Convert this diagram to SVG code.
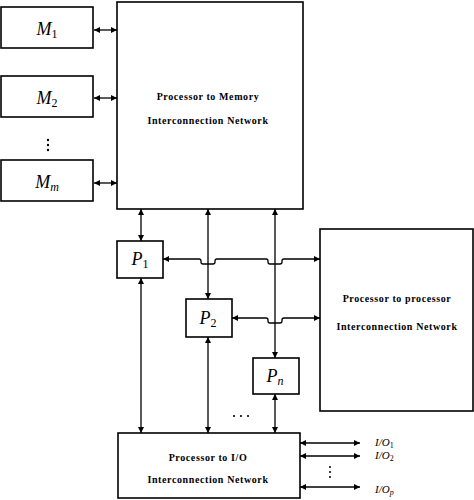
<svg xmlns="http://www.w3.org/2000/svg" width="474" height="500" viewBox="0 0 474 500">
<defs>
<marker id="ah" viewBox="0 0 10 10" refX="10" refY="5" markerWidth="7" markerHeight="6" markerUnits="userSpaceOnUse" orient="auto-start-reverse">
<path d="M0,0 L10,5 L0,10 z" fill="#000"/>
</marker>
<style>
.box{fill:#fff;stroke:#000;stroke-width:1.6}
.ln{fill:none;stroke:#000;stroke-width:1.3}
.net{font-family:"Liberation Serif",serif;font-weight:bold;font-size:10px;letter-spacing:0.6px;text-anchor:middle}
.lab{font-family:"Liberation Serif",serif;font-style:italic;font-size:18px;text-anchor:middle}
.sub{font-style:normal}
.io{font-family:"Liberation Serif",serif;font-style:italic;font-size:11px}
.dot{fill:#000}
</style>
</defs>
<g id="connectors">
<line class="ln" x1="94" y1="30" x2="117" y2="30" marker-start="url(#ah)" marker-end="url(#ah)"/>
<line class="ln" x1="94" y1="98" x2="117" y2="98" marker-start="url(#ah)" marker-end="url(#ah)"/>
<line class="ln" x1="94" y1="183" x2="117" y2="183" marker-start="url(#ah)" marker-end="url(#ah)"/>
<line class="ln" x1="141" y1="209" x2="141" y2="241" marker-start="url(#ah)" marker-end="url(#ah)"/>
<line class="ln" x1="208" y1="209" x2="208" y2="299" marker-start="url(#ah)" marker-end="url(#ah)"/>
<line class="ln" x1="275" y1="209" x2="275" y2="358" marker-start="url(#ah)" marker-end="url(#ah)"/>
<line class="ln" x1="141" y1="278" x2="141" y2="433" marker-start="url(#ah)" marker-end="url(#ah)"/>
<line class="ln" x1="208" y1="337" x2="208" y2="433" marker-start="url(#ah)" marker-end="url(#ah)"/>
<line class="ln" x1="275" y1="394" x2="275" y2="433" marker-start="url(#ah)" marker-end="url(#ah)"/>
<path class="ln" d="M163,259 H199 q2,0 2,2 v1 q0,2 2,2 h10 q2,0 2,-2 v-1 q0,-2 2,-2 H266 q2,0 2,2 v1 q0,2 2,2 h10 q2,0 2,-2 v-1 q0,-2 2,-2 H320" marker-start="url(#ah)" marker-end="url(#ah)"/>
<path class="ln" d="M232,318 H266 q2,0 2,2 v1 q0,2 2,2 h10 q2,0 2,-2 v-1 q0,-2 2,-2 H320" marker-start="url(#ah)" marker-end="url(#ah)"/>
<line class="ln" x1="300" y1="443" x2="360" y2="443" marker-start="url(#ah)" marker-end="url(#ah)"/>
<line class="ln" x1="300" y1="456" x2="360" y2="456" marker-start="url(#ah)" marker-end="url(#ah)"/>
<line class="ln" x1="300" y1="487" x2="360" y2="487" marker-start="url(#ah)" marker-end="url(#ah)"/>
</g>
<g id="M1"><rect class="box" x="1" y="7" width="92" height="41"/><text class="lab" x="47" y="35">M<tspan class="sub" font-size="12" dy="3">1</tspan></text></g>
<g id="M2"><rect class="box" x="1" y="76" width="92" height="41"/><text class="lab" x="47" y="104">M<tspan class="sub" font-size="12" dy="3">2</tspan></text></g>
<g id="Mdots"><circle class="dot" cx="48" cy="140" r="1.2"/><circle class="dot" cx="48" cy="145" r="1.2"/><circle class="dot" cx="48" cy="150" r="1.2"/></g>
<g id="Mm"><rect class="box" x="1" y="160" width="92" height="41"/><text class="lab" x="47" y="188">M<tspan font-size="12" dy="3">m</tspan></text></g>
<g id="PMnet"><rect class="box" x="117" y="2" width="186" height="207"/><text class="net" x="208" y="100">Processor to Memory</text><text class="net" x="208" y="124">Interconnection Network</text></g>
<g id="P1"><rect class="box" x="117" y="241" width="46" height="37"/><text class="lab" x="140" y="265">P<tspan class="sub" font-size="12" dy="3">1</tspan></text></g>
<g id="P2"><rect class="box" x="186" y="299" width="46" height="38"/><text class="lab" x="208" y="324">P<tspan class="sub" font-size="12" dy="3">2</tspan></text></g>
<g id="Pn"><rect class="box" x="253" y="358" width="46" height="36"/><text class="lab" x="275" y="382">P<tspan font-size="12" dy="3">n</tspan></text></g>
<g id="PPnet"><rect class="box" x="320" y="229" width="153" height="182"/><text class="net" x="397" y="302">Processor to processor</text><text class="net" x="397" y="330">Interconnection Network</text></g>
<g id="Pdots"><circle class="dot" cx="234" cy="416" r="1.1"/><circle class="dot" cx="241" cy="416" r="1.1"/><circle class="dot" cx="248" cy="416" r="1.1"/></g>
<g id="PIOnet"><rect class="box" x="118" y="433" width="182" height="65"/><text class="net" x="208" y="461">Processor to I/O</text><text class="net" x="208" y="483">Interconnection Network</text></g>
<g id="IOlabels">
<text class="io" x="375" y="446">I/O<tspan class="sub" font-size="8" dy="2">1</tspan></text>
<text class="io" x="375" y="459">I/O<tspan class="sub" font-size="8" dy="2">2</tspan></text>
<text class="io" x="375" y="493">I/O<tspan font-size="8" dy="2">p</tspan></text>
<circle class="dot" cx="330" cy="467" r="1"/><circle class="dot" cx="330" cy="472" r="1"/><circle class="dot" cx="330" cy="477" r="1"/>
</g>
</svg>
